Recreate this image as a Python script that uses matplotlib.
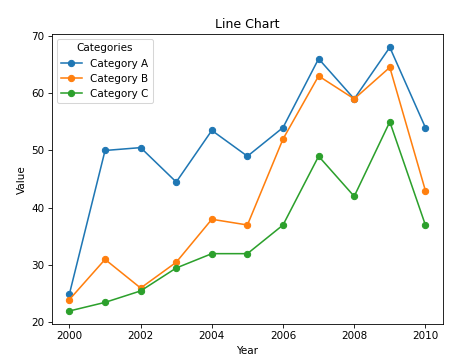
import matplotlib
matplotlib.use("Agg")
import matplotlib.pyplot as plt

years = [2000, 2001, 2002, 2003, 2004, 2005, 2006, 2007, 2008, 2009, 2010]
cat_a = [25, 50, 50.5, 44.5, 53.5, 49, 54, 66, 59, 68, 54]
cat_b = [24, 31, 26, 30.5, 38, 37, 52, 63, 59, 64.5, 43]
cat_c = [22, 23.5, 25.5, 29.5, 32, 32, 37, 49, 42, 55, 37]

fig, ax = plt.subplots(figsize=(474 / 75, 363 / 75), dpi=75)
fig.subplots_adjust(left=0.109, right=0.935, top=0.906, bottom=0.107)

ax.plot(years, cat_a, marker='o', label='Category A')
ax.plot(years, cat_b, marker='o', label='Category B')
ax.plot(years, cat_c, marker='o', label='Category C')

ax.set_title('Line Chart')
ax.set_xlabel('Year')
ax.set_ylabel('Value')
ax.legend(title='Categories', loc='upper left')

plt.savefig('out.png', dpi=75)
plt.close()
